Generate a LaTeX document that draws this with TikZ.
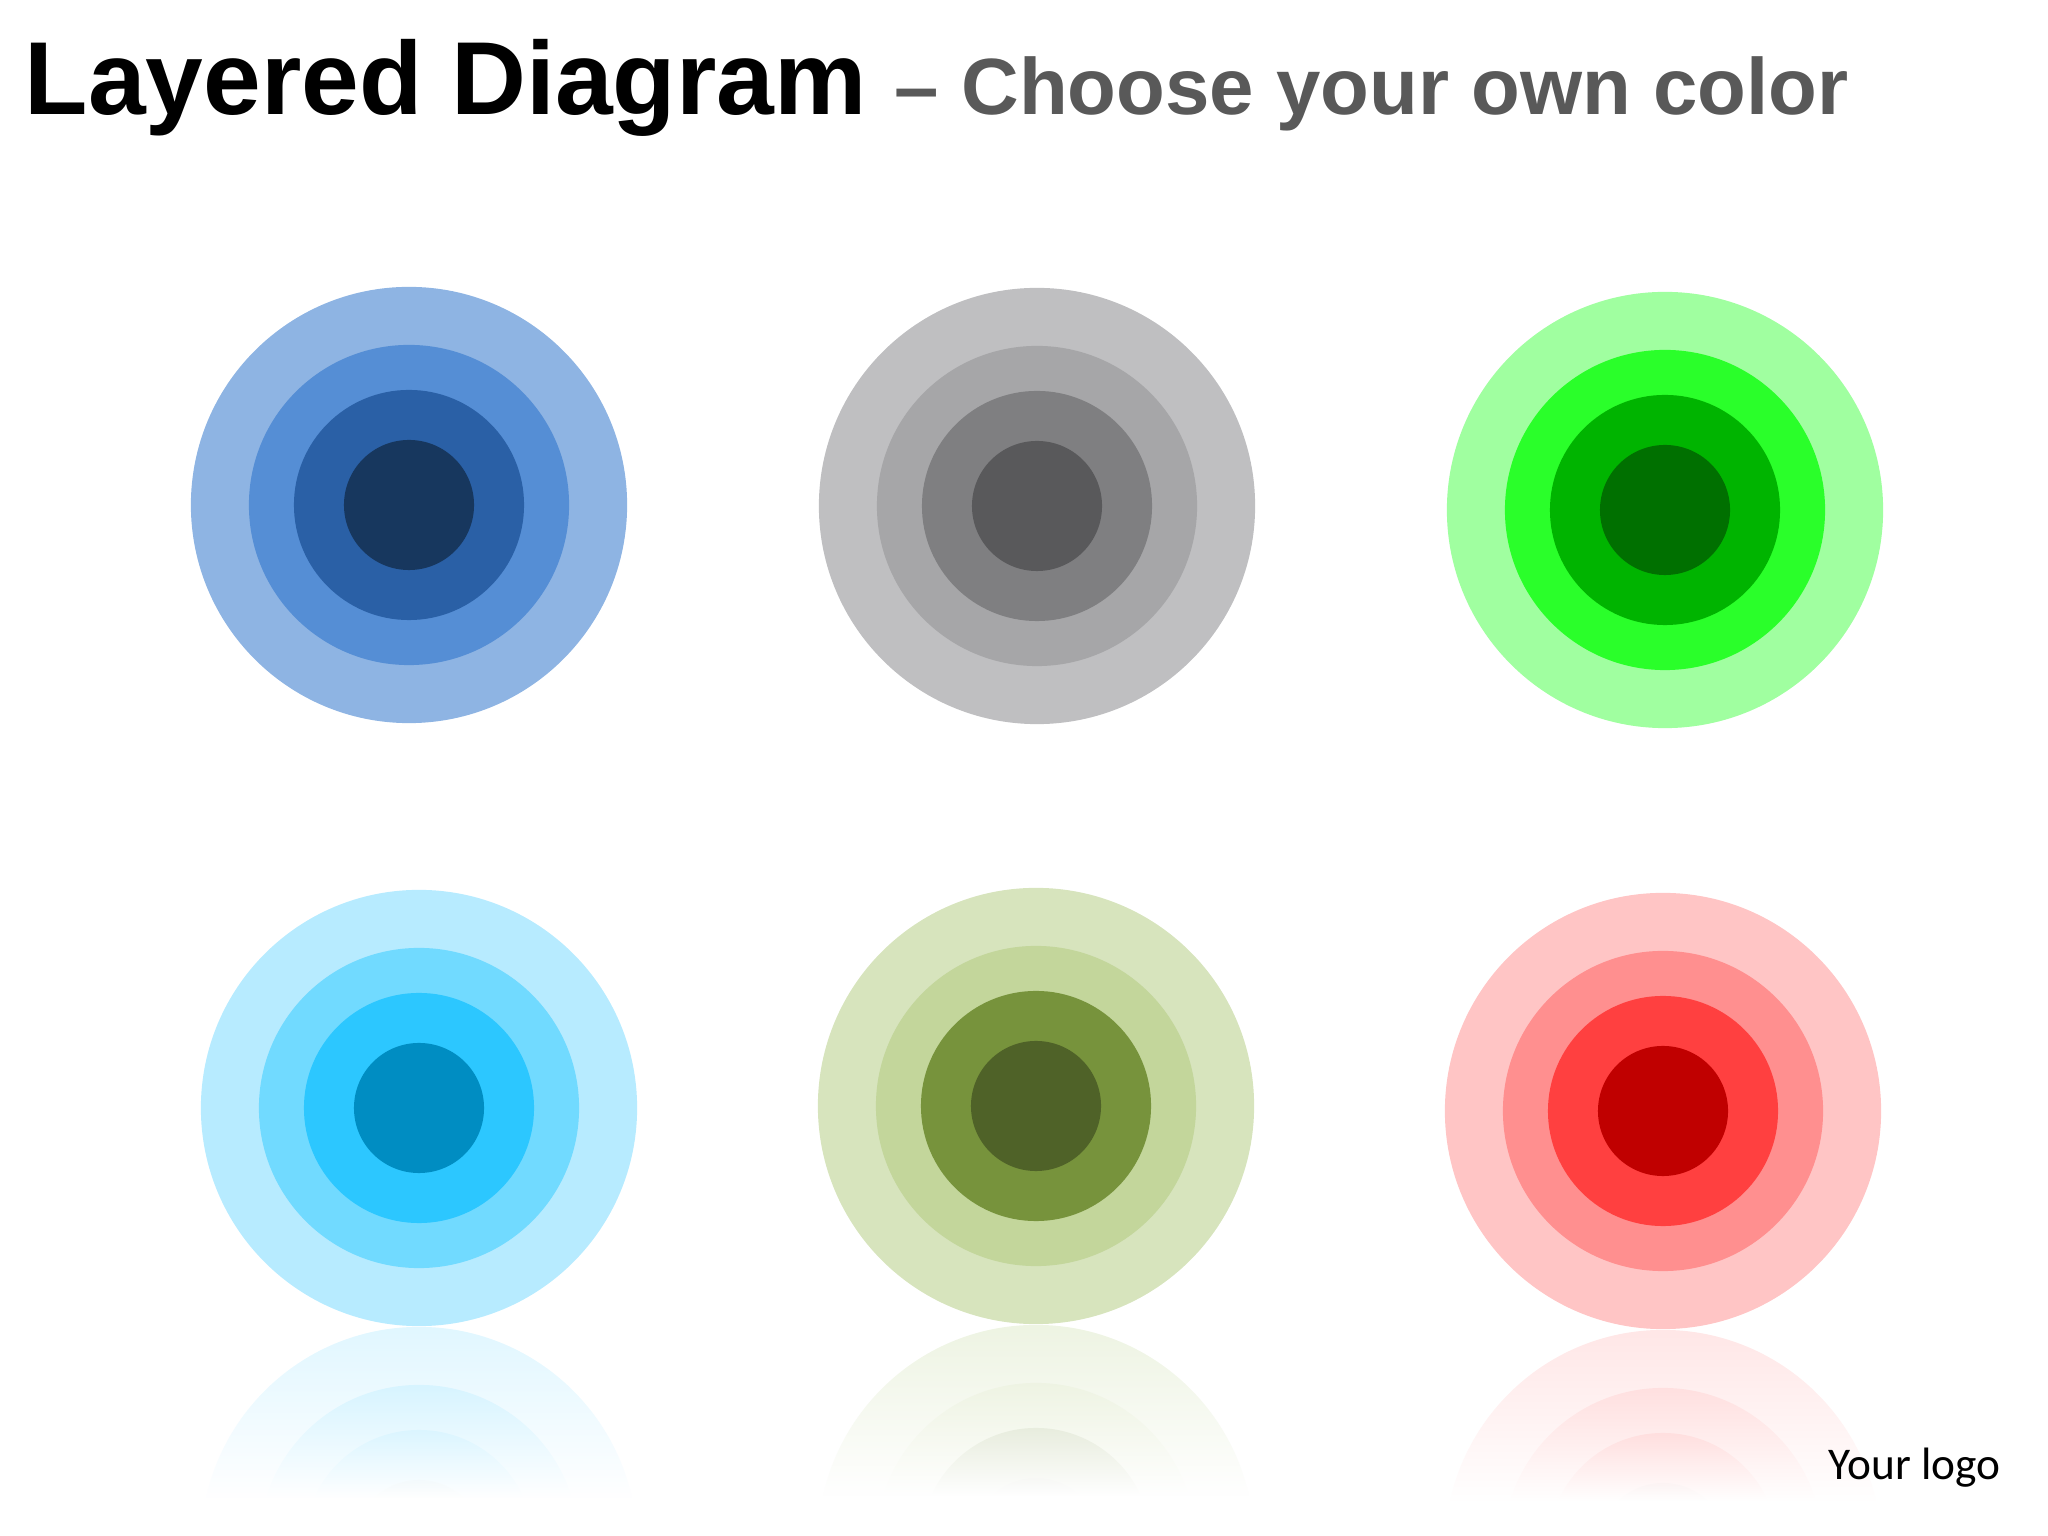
\documentclass[tikz,border=0pt]{standalone}
\usepackage{fontspec}
\setmainfont{Liberation Sans}
\newfontfamily\logofont{Carlito}
\usetikzlibrary{fadings, positioning}

% ring colours, outer to inner
\definecolor{blueA}{HTML}{8EB4E3}
\definecolor{blueB}{HTML}{558ED5}
\definecolor{blueC}{HTML}{2A60A6}
\definecolor{blueD}{HTML}{17375E}
\definecolor{grayA}{HTML}{BFBFC1}
\definecolor{grayB}{HTML}{A6A6A8}
\definecolor{grayC}{HTML}{7F7F81}
\definecolor{grayD}{HTML}{59595B}
\definecolor{greenA}{HTML}{A0FFA0}
\definecolor{greenB}{HTML}{2AFF2A}
\definecolor{greenC}{HTML}{00B400}
\definecolor{greenD}{HTML}{007000}
\definecolor{skyA}{HTML}{B7EBFF}
\definecolor{skyB}{HTML}{71DAFF}
\definecolor{skyC}{HTML}{2CC7FF}
\definecolor{skyD}{HTML}{008DC2}
\definecolor{oliveA}{HTML}{D7E4BD}
\definecolor{oliveB}{HTML}{C3D69B}
\definecolor{oliveC}{HTML}{77933C}
\definecolor{oliveD}{HTML}{4F6228}
\definecolor{redA}{HTML}{FFC5C5}
\definecolor{redB}{HTML}{FF8F8F}
\definecolor{redC}{HTML}{FF4040}
\definecolor{redD}{HTML}{C00000}
\definecolor{subgray}{HTML}{595959}

\tikzstyle{ring}=[circle, inner sep=0pt, outer sep=0pt, draw=none]
\tikzstyle{ringA}=[ring, minimum size=4.36cm]
\tikzstyle{ringB}=[ring, minimum size=3.20cm]
\tikzstyle{ringC}=[ring, minimum size=2.30cm]
\tikzstyle{ringD}=[ring, minimum size=1.30cm]
\tikzstyle{title}=[inner sep=0pt, anchor=base west, font=\fontsize{29.5}{31}\selectfont\bfseries]
\tikzstyle{subtitle}=[inner sep=0pt, anchor=base west, text=subgray, font=\fontsize{22.7}{24}\selectfont\bfseries]
\tikzstyle{logo}=[inner sep=0pt, anchor=base west, font=\logofont\fontsize{12.9}{14}\selectfont]
\tikzfading[name=reflfade, top color=transparent!100, bottom color=transparent!0]

\begin{document}
\begin{tikzpicture}[x=0.01cm, y=0.01cm]
  \useasboundingbox (0,0) rectangle (2048,1536);

  % heading
  \node[title] (title) at (24,1421) {Layered Diagram};
  \node[subtitle] (subtitle) at ([xshift=0.27cm] title.base east) {\char"2013\ Choose your own color};

  % top row
  \node[ringA, fill=blueA] (blue1) at (409,1031) {};
  \node[ringB, fill=blueB] (blue2) at (blue1) {};
  \node[ringC, fill=blueC] (blue3) at (blue1) {};
  \node[ringD, fill=blueD] (blue4) at (blue1) {};

  \node[ringA, fill=grayA] (gray1) at (1037,1030) {};
  \node[ringB, fill=grayB] (gray2) at (gray1) {};
  \node[ringC, fill=grayC] (gray3) at (gray1) {};
  \node[ringD, fill=grayD] (gray4) at (gray1) {};

  \node[ringA, fill=greenA] (green1) at (1665,1026) {};
  \node[ringB, fill=greenB] (green2) at (green1) {};
  \node[ringC, fill=greenC] (green3) at (green1) {};
  \node[ringD, fill=greenD] (green4) at (green1) {};

  % bottom row
  \node[ringA, fill=skyA] (sky1) at (419,428) {};
  \node[ringB, fill=skyB] (sky2) at (sky1) {};
  \node[ringC, fill=skyC] (sky3) at (sky1) {};
  \node[ringD, fill=skyD] (sky4) at (sky1) {};

  \node[ringA, fill=oliveA] (olive1) at (1036,430) {};
  \node[ringB, fill=oliveB] (olive2) at (olive1) {};
  \node[ringC, fill=oliveC] (olive3) at (olive1) {};
  \node[ringD, fill=oliveD] (olive4) at (olive1) {};

  \node[ringA, fill=redA] (red1) at (1663,425) {};
  \node[ringB, fill=redB] (red2) at (red1) {};
  \node[ringC, fill=redC] (red3) at (red1) {};
  \node[ringD, fill=redD] (red4) at (red1) {};

  % reflections under the bottom row
  \begin{scope}
    \clip (150,208) rectangle (700,38);
    \node[ringA, fill=skyA!42!white] (skyr1) at (419,-9) {};
    \node[ringB, fill=skyB!42!white] (skyr2) at (skyr1) {};
    \node[ringC, fill=skyC!42!white] (skyr3) at (skyr1) {};
    \node[ringD, fill=skyD!42!white] (skyr4) at (skyr1) {};
    \fill[white, path fading=reflfade] (150,208) rectangle (700,38);
  \end{scope}
  \begin{scope}
    \clip (770,210) rectangle (1310,40);
    \node[ringA, fill=oliveA!42!white] (oliver1) at (1036,-7) {};
    \node[ringB, fill=oliveB!42!white] (oliver2) at (oliver1) {};
    \node[ringC, fill=oliveC!42!white] (oliver3) at (oliver1) {};
    \node[ringD, fill=oliveD!42!white] (oliver4) at (oliver1) {};
    \fill[white, path fading=reflfade] (770,210) rectangle (1310,40);
  \end{scope}
  \begin{scope}
    \clip (1390,205) rectangle (1935,35);
    \node[ringA, fill=redA!42!white] (redr1) at (1663,-12) {};
    \node[ringB, fill=redB!42!white] (redr2) at (redr1) {};
    \node[ringC, fill=redC!42!white] (redr3) at (redr1) {};
    \node[ringD, fill=redD!42!white] (redr4) at (redr1) {};
    \fill[white, path fading=reflfade] (1390,205) rectangle (1935,35);
  \end{scope}

  \node[logo] (logo) at (1828,56) {Your logo};
\end{tikzpicture}
\end{document}
